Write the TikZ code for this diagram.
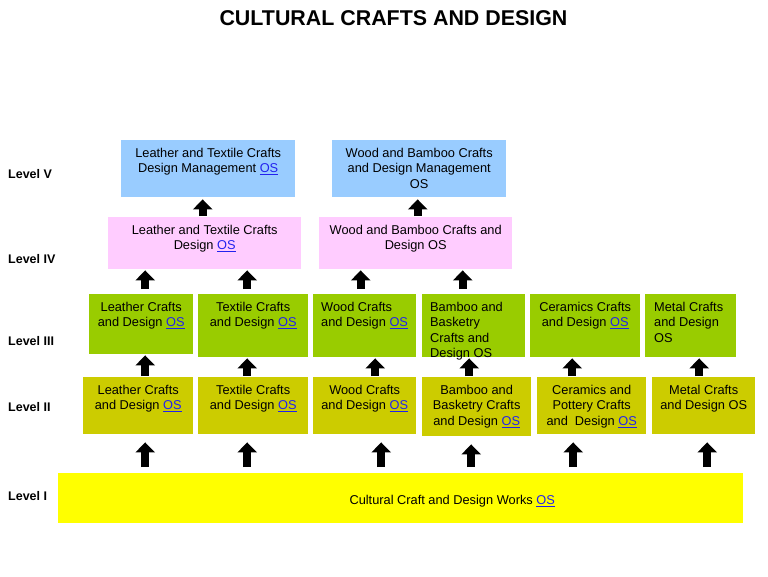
\documentclass[tikz,border=0pt]{standalone}
\usepackage{fontspec}
\setmainfont{Liberation Sans}
\usepackage{tikz}
\usetikzlibrary{arrows.meta,positioning,calc}
\definecolor{CraftBlue}{HTML}{99CCFF}
\definecolor{CraftPink}{HTML}{FFCCFF}
\definecolor{CraftGreen}{HTML}{99CC00}
\definecolor{CraftOlive}{HTML}{CCCC00}
\definecolor{CraftYellow}{HTML}{FFFF00}
\definecolor{CraftLink}{HTML}{2222EE}
\newcommand{\crafttext}{\fontsize{12.8}{15.5}\selectfont}
\newcommand{\oslink}{\textcolor{CraftLink}{\underline{OS}}}
\tikzset{
  lift/.style={-{Triangle[width=19pt,length=10pt]}, line width=8pt, draw=black},
  tier/.style={draw=none, inner sep=0pt, anchor=north west},
  lvfive/.style={tier, fill=CraftBlue, minimum width=174pt, minimum height=57pt},
  lvfour/.style={tier, fill=CraftPink, minimum width=193pt, minimum height=52pt},
  lvthree/.style={tier, fill=CraftGreen, minimum height=63pt},
  lvtwo/.style={tier, fill=CraftOlive, minimum height=57pt},
  lvone/.style={tier, fill=CraftYellow, minimum width=685pt, minimum height=50pt},
  txt/.style={align=center, inner sep=0pt, anchor=north, font=\crafttext},
  txtl/.style={align=left, inner sep=0pt, anchor=north west, font=\crafttext},
  levelname/.style={anchor=west, inner sep=0pt, font=\fontsize{12.5}{15}\selectfont\bfseries},
}

\begin{document}
\begin{tikzpicture}[x=1pt,y=-1pt]
    \useasboundingbox (0,0) rectangle (768,576);
    \node[font=\fontsize{21.4}{25}\selectfont\bfseries] (title) at (393.5,18) {CULTURAL CRAFTS AND DESIGN};
    % level names
    \node[levelname] (name5) at (8,174.5) {Level V};
    \node[levelname] (name4) at (8,259.5) {Level IV};
    \node[levelname] (name3) at (8,341.5) {Level III};
    \node[levelname] (name2) at (8,407.5) {Level II};
    \node[levelname] (name1) at (8,496.5) {Level I};
    % level V
    \node[lvfive] (v1) at (121,140) {};
    \node[txt] at ([yshift=-8pt]v1.north) {Leather and Textile Crafts\\Design Management \oslink};
    \node[lvfive] (v2) at (332,140) {};
    \node[txt] at ([yshift=-8pt]v2.north) {Wood and Bamboo Crafts\\and Design Management\\OS};
    % level IV
    \node[lvfour] (iv1) at (108,217) {};
    \node[txt] at ([yshift=-8pt]iv1.north) {Leather and Textile Crafts\\Design \oslink};
    \node[lvfour] (iv2) at (319,217) {};
    \node[txt] at ([yshift=-8pt]iv2.north) {Wood and Bamboo Crafts and\\Design OS};
    % level III
    \node[lvthree,minimum width=104pt,minimum height=60pt] (leather3) at (89,294) {};
    \node[txt] at ([yshift=-8pt]leather3.north) {Leather Crafts\\and Design \oslink};
    \node[lvthree,minimum width=110pt] (textile3) at (198,294) {};
    \node[txt] at ([yshift=-8pt]textile3.north) {Textile Crafts\\and Design \oslink};
    \node[lvthree,minimum width=103pt] (wood3) at (313,294) {};
    \node[txtl] at ([xshift=8pt,yshift=-8pt]wood3.north west) {Wood Crafts\\and Design \oslink};
    \node[lvthree,minimum width=103pt] (bamboo3) at (422,294) {};
    \node[txtl] at ([xshift=8pt,yshift=-8pt]bamboo3.north west) {Bamboo and\\Basketry\\Crafts and\\Design OS};
    \node[lvthree,minimum width=110pt] (ceramics3) at (530,294) {};
    \node[txt] at ([yshift=-8pt]ceramics3.north) {Ceramics Crafts\\and Design \oslink};
    \node[lvthree,minimum width=91pt] (metal3) at (645,294) {};
    \node[txtl] at ([xshift=9pt,yshift=-8pt]metal3.north west) {Metal Crafts\\and Design\\OS};
    % level II
    \node[lvtwo,minimum width=110pt] (leather2) at (83,377) {};
    \node[txt] at ([yshift=-8pt]leather2.north) {Leather Crafts\\and Design \oslink};
    \node[lvtwo,minimum width=110pt] (textile2) at (198,377) {};
    \node[txt] at ([yshift=-8pt]textile2.north) {Textile Crafts\\and Design \oslink};
    \node[lvtwo,minimum width=103pt] (wood2) at (313,377) {};
    \node[txt] at ([yshift=-8pt]wood2.north) {Wood Crafts\\and Design \oslink};
    \node[lvtwo,minimum width=109pt,minimum height=59pt] (bamboo2) at (422,377) {};
    \node[txt] at ([yshift=-8pt]bamboo2.north) {Bamboo and\\Basketry Crafts\\and Design \oslink};
    \node[lvtwo,minimum width=109pt] (ceramics2) at (537,377) {};
    \node[txt] at ([yshift=-8pt]ceramics2.north) {Ceramics and\\Pottery Crafts\\and~ Design \oslink};
    \node[lvtwo,minimum width=103pt] (metal2) at (652,377) {};
    \node[txt] at ([yshift=-8pt]metal2.north) {Metal Crafts\\and Design OS};
    % level I
    \node[lvone] (base) at (58,473) {};
    \node[txt,anchor=center] at ([xshift=51.5pt,yshift=-3pt]base.center) {Cultural Craft and Design Works \oslink};
    % arrows
    \draw[lift, shorten <=1pt, shorten >=2pt] ([xshift=-2pt]iv1.north) -- ([xshift=-2pt]iv1.north |- v1.south);
    \draw[lift, shorten <=1pt, shorten >=2pt] ([xshift=2pt]iv2.north) -- ([xshift=2pt]iv2.north |- v2.south);
    \foreach \n/\up/\dx in {leather/iv1/4, textile/iv1/-6, wood/iv2/-4, bamboo/iv2/-11}
      \draw[lift, shorten <=5pt, shorten >=1pt] ($(\n3.north)+(\dx,0)$) -- ($(\n3.north |- \up.south)+(\dx,0)$);
    \foreach \n/\dx in {leather/7, textile/-6, wood/10.5, bamboo/-7.5, ceramics/-19.5, metal/-4.5}
      \draw[lift, shorten <=1pt, shorten >=1pt] ($(\n2.north)+(\dx,0)$) -- ($(\n2.north |- \n3.south)+(\dx,0)$);
    \foreach \n/\dx in {leather/7, textile/-6, wood/16.5, bamboo/-5.5, ceramics/-18.5, metal/3.5}
      \draw[lift, shorten <=6pt, shorten >=8pt] ($(base.north -| \n2.south)+(\dx,0)$) -- ($(\n2.south)+(\dx,0)$);
  \end{tikzpicture}
\end{document}
